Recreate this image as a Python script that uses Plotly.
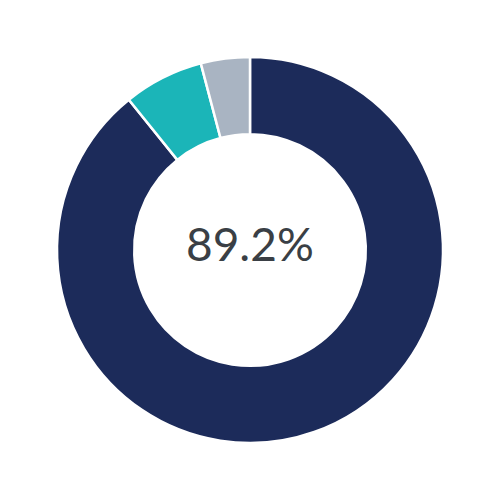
import plotly.graph_objects as go

labels = ["Primary", "Secondary", "Other"]
values = [89.2, 6.7, 4.1]
colors = ["#1c2b5a", "#1bb5b8", "#a9b4c2"]
center_text = "89.2%"

fig = go.Figure(go.Pie(
    labels=labels,
    values=values,
    hole=0.6,
    sort=False,
    direction="clockwise",
    rotation=0,
    marker=dict(colors=colors, line=dict(color="#ffffff", width=2.5)),
    textinfo="none",
    hoverinfo="label+percent",
    showlegend=False,
))
fig.add_annotation(
    text=center_text, x=0.5, y=0.5, xref="paper", yref="paper",
    showarrow=False, yshift=7,
    font=dict(family="Lato", size=46, color="#3a3f45"),
)
fig.update_layout(
    width=492, height=492,
    margin=dict(l=49, r=57, t=49, b=57),
    paper_bgcolor="#ffffff", plot_bgcolor="#ffffff",
)
fig.write_html("out.html")
